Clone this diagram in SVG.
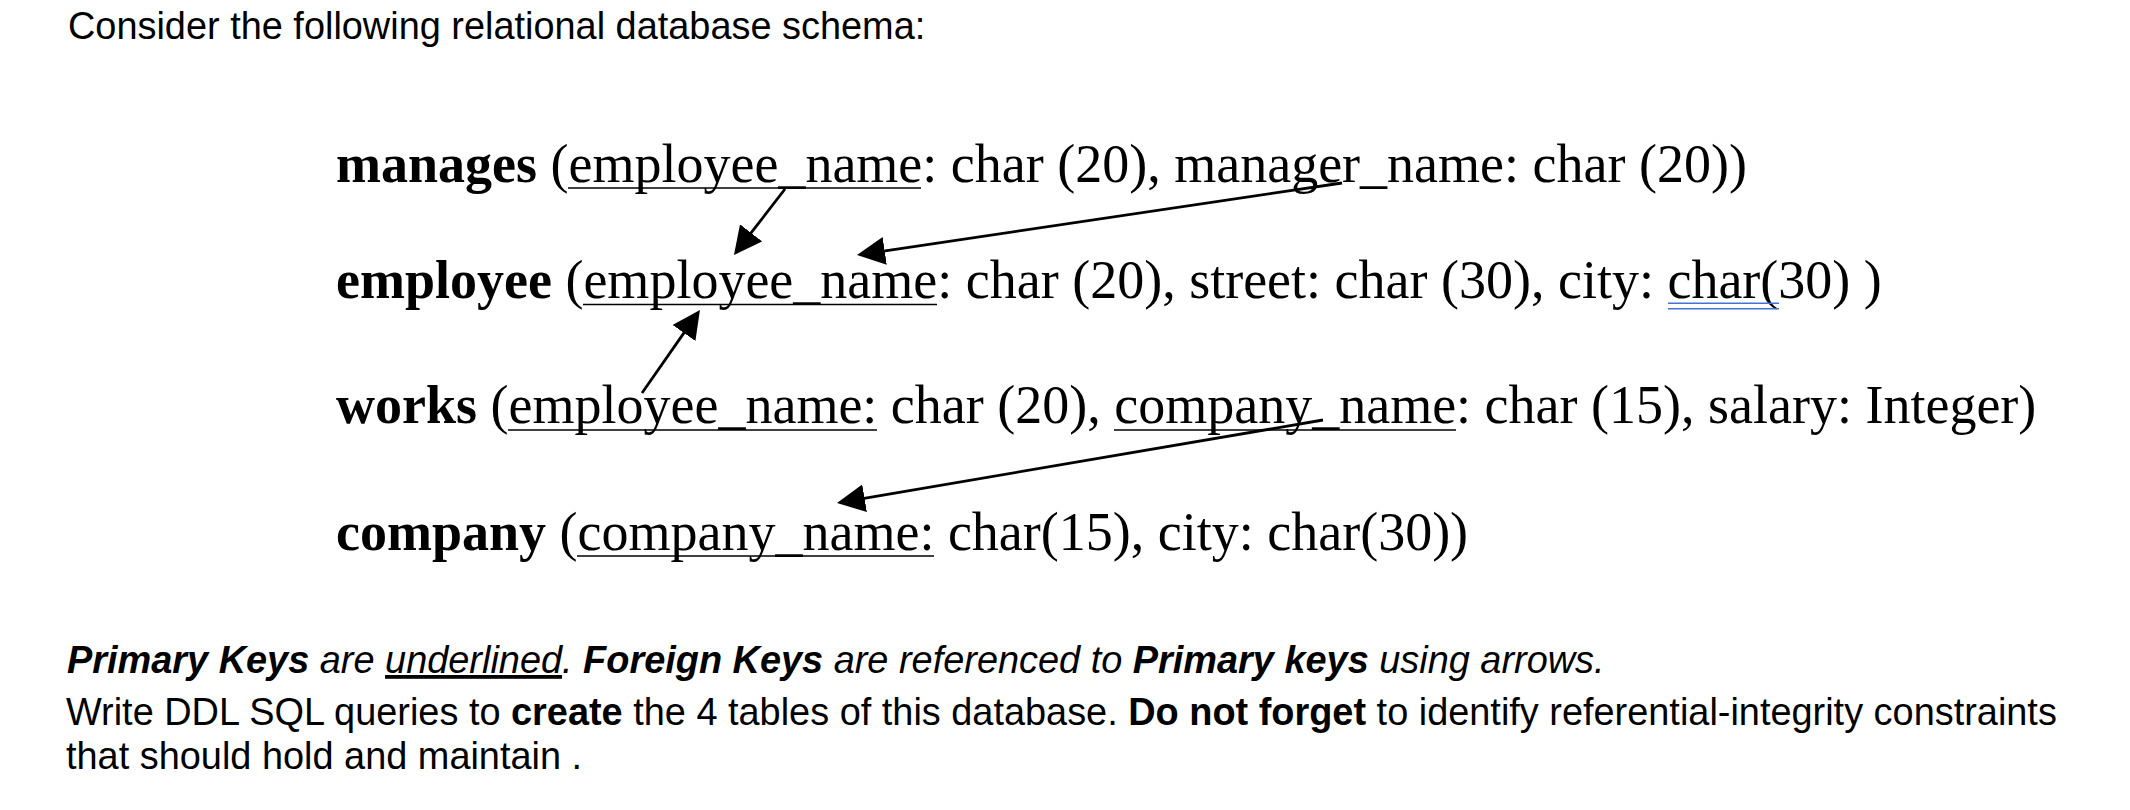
<svg xmlns="http://www.w3.org/2000/svg" width="2130" height="810" viewBox="0 0 2130 810">
  <style>
    .serif { font-family: "Liberation Serif", "Times New Roman", serif; font-size: 54px; fill: #000; }
    .sans { font-family: "Liberation Sans", Arial, sans-serif; font-size: 37.9px; fill: #000; }
    .b { font-weight: bold; }
    .i { font-style: italic; }
    .u { text-decoration: underline; }
    .ul { stroke: #000; stroke-width: 1.7; }
    .conn { stroke: #000; stroke-width: 2.8; fill: none; marker-end: url(#head); }
    .spell { stroke: #4472d6; stroke-width: 1.6; }
  </style>
  <defs>
    <marker id="head" viewBox="0 0 28 28" refX="8" refY="14" markerWidth="28" markerHeight="28" markerUnits="userSpaceOnUse" orient="auto">
      <path d="M0,0 L28,14 L0,28 Z" fill="#000"/>
    </marker>
  </defs>
  <rect width="2130" height="810" fill="#fff"/>

  <g id="title">
    <text class="sans" x="68" y="39">Consider the following relational database schema:</text>
  </g>

  <g id="manages">
    <text class="serif" x="336" y="182"><tspan class="b">manages</tspan> (employee_name: char (20), manager_name: char (20))</text>
    <line class="ul" x1="568" y1="188" x2="921" y2="188"/>
  </g>

  <g id="employee">
    <text class="serif" x="336" y="298"><tspan class="b">employee</tspan> (employee_name: char (20), street: char (30), city: char(30) )</text>
    <line class="ul" x1="583" y1="304.5" x2="937" y2="304.5"/>
    <line class="spell" x1="1668" y1="303.3" x2="1779" y2="303.3"/>
    <line class="spell" x1="1668" y1="308.8" x2="1779" y2="308.8"/>
  </g>

  <g id="works">
    <text class="serif" x="336" y="423"><tspan class="b">works</tspan> (employee_name: char (20), company_name: char (15), salary: Integer)</text>
    <line class="ul" x1="508" y1="430" x2="877" y2="430"/>
    <line class="ul" x1="1114" y1="430" x2="1456" y2="430"/>
  </g>

  <g id="company">
    <text class="serif" x="336" y="550"><tspan class="b">company</tspan> (company_name: char(15), city: char(30))</text>
    <line class="ul" x1="577" y1="556" x2="934" y2="556"/>
  </g>

  <g id="connectors">
    <line class="conn" x1="785" y1="189" x2="746.2" y2="239.2"/>
    <line class="conn" x1="642" y1="393" x2="688.5" y2="326.4"/>
    <line class="conn" x1="1342" y1="183" x2="876.8" y2="252.1"/>
    <line class="conn" x1="1323" y1="420" x2="856.7" y2="499.6"/>
  </g>

  <g id="notes">
    <text class="sans i" x="67" y="673"><tspan class="b">Primary Keys</tspan> are <tspan class="u">underlined</tspan>. <tspan class="b">Foreign Keys</tspan> are referenced to <tspan class="b">Primary keys</tspan> using arrows.</text>
    <text class="sans" x="66" y="725">Write DDL SQL queries to <tspan class="b">create</tspan> the 4 tables of this database. <tspan class="b">Do not forget</tspan> to identify referential-integrity constraints</text>
    <text class="sans" x="66" y="769">that should hold and maintain .</text>
  </g>
</svg>
